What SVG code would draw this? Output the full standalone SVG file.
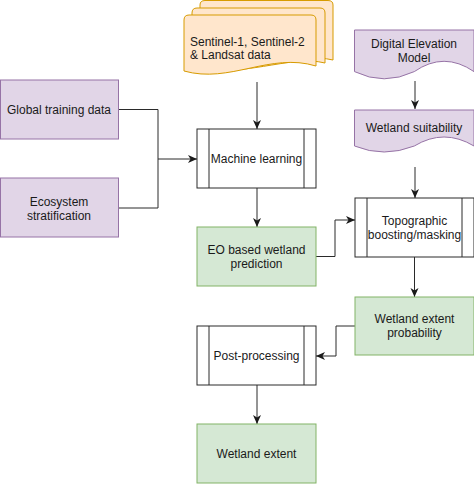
<svg xmlns="http://www.w3.org/2000/svg" width="474" height="484" viewBox="0 0 474 484">
<style>
text{font-family:"Liberation Sans",Arial,sans-serif;font-size:12px;fill:#1a1a1a}
.c{text-anchor:middle}
.purple{fill:#e1d5e7;stroke:#9673a6;stroke-width:1}
.green{fill:#d5e8d4;stroke:#82b366;stroke-width:1}
.orange{fill:#ffe6cc;stroke:#d79b00;stroke-width:1}
.proc{fill:#ffffff;stroke:#2a2a2a;stroke-width:1}
.edge{fill:none;stroke:#2a2a2a;stroke-width:1}
</style>
<defs>
<marker id="arr" markerUnits="userSpaceOnUse" markerWidth="10" markerHeight="10" viewBox="0 0 10 10" refX="10" refY="5" orient="auto">
<path d="M1,1 L10,5 L1,9 L3.5,5 Z" fill="#1a1a1a"/>
</marker>
</defs>
<rect width="474" height="484" fill="#ffffff"/>

<g id="connectors">
<path class="edge" d="M257,82 V129" marker-end="url(#arr)"/>
<path class="edge" d="M118,109.5 H158 V159 H197" marker-end="url(#arr)"/>
<path class="edge" d="M118,208 H158 V159"/>
<path class="edge" d="M257,188 V227" marker-end="url(#arr)"/>
<path class="edge" d="M316,256.5 H335 V220 H355" marker-end="url(#arr)"/>
<path class="edge" d="M415,81 V109" marker-end="url(#arr)"/>
<path class="edge" d="M415,167 V198" marker-end="url(#arr)"/>
<path class="edge" d="M414.5,257 V297" marker-end="url(#arr)"/>
<path class="edge" d="M355,326 H336 V356 H316" marker-end="url(#arr)"/>
<path class="edge" d="M257,385 V424" marker-end="url(#arr)"/>
</g>

<g id="sentinel-data">
<path class="orange" d="M200,60 L200,5 Q200,0.5 205,0.5 L328,0.5 Q333,0.5 333,5 L333,60 C300,52 250,72 200,60 Z"/>
<path class="orange" d="M192,66 L192,13 Q192,8 197,8 L320,8 Q325,8 325,13 L325,63 C290,54 240,80 192,66 Z"/>
<path class="orange" d="M184,71 L184,20 Q184,15 189,15 L311,15 Q316,15 316,20 L316,66 C270,52 230,84 184,71 Z"/>
<text x="190" y="45.5">Sentinel-1, Sentinel-2</text>
<text x="190" y="58.5">&amp; Landsat data</text>
</g>

<g id="dem">
<path class="purple" d="M354.5,30 H474 V71.6 Q444,51 414.3,71.6 Q384,86 354.5,71.6 Z"/>
<text class="c" x="414" y="48">Digital Elevation</text>
<text class="c" x="414" y="61.5">Model</text>
</g>

<g id="wetland-suitability">
<path class="purple" d="M354.5,110 H474 V146 Q444,128 414.3,146 Q384,158 354.5,146 Z"/>
<text class="c" x="414" y="132">Wetland suitability</text>
</g>

<g id="global-training">
<rect class="purple" x="0.5" y="80" width="118" height="59"/>
<text class="c" x="59" y="113.8">Global training data</text>
</g>

<g id="ecosystem">
<rect class="purple" x="0.5" y="178" width="118" height="59"/>
<text class="c" x="59" y="205.5">Ecosystem</text>
<text class="c" x="59" y="219.5">stratification</text>
</g>

<g id="machine-learning">
<rect class="proc" x="197" y="129" width="119" height="59"/>
<line class="proc" x1="209" y1="129" x2="209" y2="188"/>
<line class="proc" x1="304" y1="129" x2="304" y2="188"/>
<text class="c" x="256.5" y="162.8">Machine learning</text>
</g>

<g id="eo-prediction">
<rect class="green" x="197" y="227" width="119" height="59"/>
<text class="c" x="256.5" y="253.8">EO based wetland</text>
<text class="c" x="256.5" y="267.6">prediction</text>
</g>

<g id="topographic">
<rect class="proc" x="355" y="198" width="119" height="59"/>
<line class="proc" x1="367" y1="198" x2="367" y2="257"/>
<line class="proc" x1="462" y1="198" x2="462" y2="257"/>
<text class="c" x="414.5" y="225.2">Topographic</text>
<text class="c" x="414.5" y="239">boosting/masking</text>
</g>

<g id="wetland-probability">
<rect class="green" x="355" y="297" width="119" height="58"/>
<text class="c" x="414.5" y="323.2">Wetland extent</text>
<text class="c" x="414.5" y="336.8">probability</text>
</g>

<g id="post-processing">
<rect class="proc" x="197" y="326" width="119" height="59"/>
<line class="proc" x1="209" y1="326" x2="209" y2="385"/>
<line class="proc" x1="304" y1="326" x2="304" y2="385"/>
<text class="c" x="256.5" y="360">Post-processing</text>
</g>

<g id="wetland-extent">
<rect class="green" x="197" y="424" width="119" height="59"/>
<text class="c" x="256.5" y="458.2">Wetland extent</text>
</g>
</svg>
